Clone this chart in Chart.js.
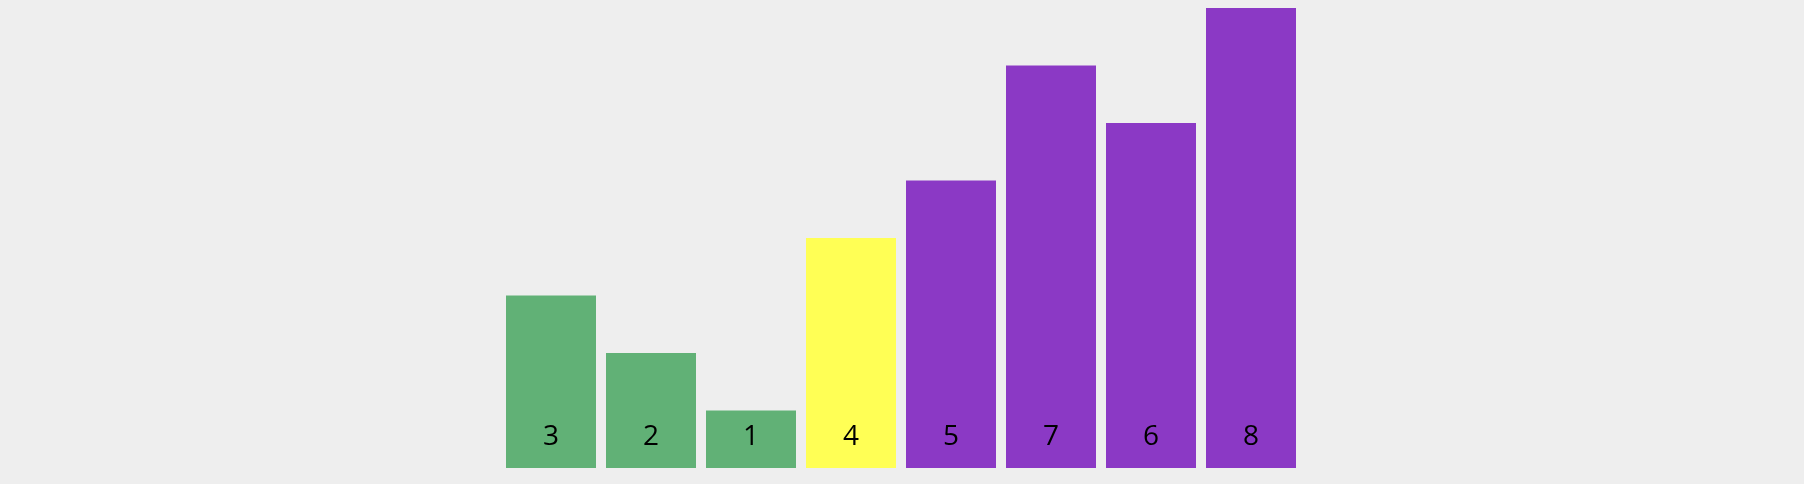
<!DOCTYPE html>
<html>
<head>
<meta charset="UTF-8">
<script src="https://cdn.jsdelivr.net/npm/chart.js"></script>
<style>
  body { margin: 0; background: #eeeeee; }
</style>
</head>
<body>
<canvas id="grafico" width="1804" height="484"></canvas>
<script>
// dados do gráfico
const categorias = ['a', 'b', 'c', 'd', 'e', 'f', 'g', 'h'];
const valores = [3, 2, 1, 4, 5, 7, 6, 8];
const cores = ['#61b176', '#61b176', '#61b176', '#ffff55', '#8b39c5', '#8b39c5', '#8b39c5', '#8b39c5'];

// escreve o valor dentro da barra (ou acima, se a barra for baixa)
const rotulos = {
  id: 'rotulos',
  afterDatasetsDraw(chart) {
    const ctx = chart.ctx;
    const meta = chart.getDatasetMeta(0);
    const base = chart.scales.y.getPixelForValue(0);
    ctx.save();
    ctx.font = '28px "Open Sans"';
    ctx.fillStyle = '#000';
    ctx.textAlign = 'center';
    ctx.textBaseline = 'middle';
    meta.data.forEach(function (bar, i) {
      let y = base - 31;
      if (bar.y > y - 20) y = bar.y - 30;
      ctx.fillText(String(valores[i]), bar.x, y);
    });
    ctx.restore();
  }
};

new Chart(document.getElementById('grafico'), {
  type: 'bar',
  data: {
    labels: categorias,
    datasets: [{
      data: valores,
      backgroundColor: cores,
      borderWidth: 0,
      categoryPercentage: 1,
      barPercentage: 0.9
    }]
  },
  options: {
    responsive: false,
    animation: false,
    layout: { padding: { left: 501, right: 503, top: 8, bottom: 16 } },
    plugins: { legend: { display: false }, tooltip: { enabled: false } },
    scales: {
      x: { display: false },
      y: { display: false, min: 0, max: 8 }
    }
  },
  plugins: [rotulos]
});
</script>
</body>
</html>
